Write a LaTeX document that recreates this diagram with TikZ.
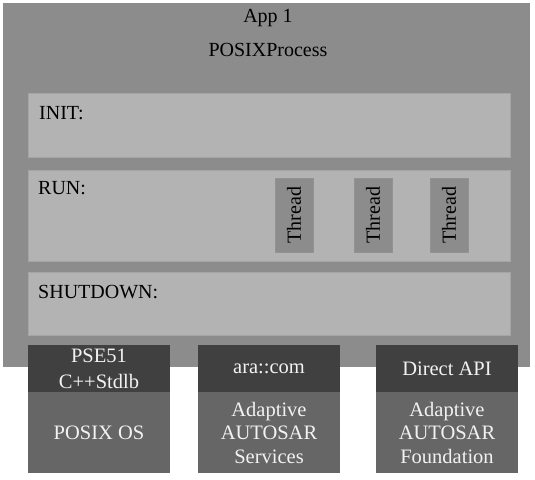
\documentclass[tikz,border=0pt]{standalone}
\usepackage{fontspec}
\setmainfont{Liberation Serif}
\usetikzlibrary{positioning}

\definecolor{appgray}{HTML}{8C8C8C}
\definecolor{phasegray}{HTML}{B3B3B3}
\definecolor{apidark}{HTML}{404040}
\definecolor{stackgray}{HTML}{666666}

\tikzset{
  box/.style={inner sep=0pt, outer sep=0pt},
  phase/.style={box, fill=phasegray, draw=phasegray!92!black, minimum width=482pt, anchor=north west},
  phaselabel/.style={inner sep=0pt, anchor=north west, font=\fontsize{20}{24}\selectfont},
  thread/.style={box, fill=appgray, draw=appgray!95!white, rotate=90, minimum width=74pt, minimum height=38pt, font=\fontsize{20}{24}\selectfont},
  apibox/.style={box, fill=apidark, text=white!95!black, minimum width=142pt, minimum height=47pt, align=center, font=\fontsize{20.5}{26}\selectfont},
  stackbox/.style={box, fill=stackgray, text=white!95!black, minimum width=142pt, minimum height=81pt, align=center, font=\fontsize{20.5}{23.5}\selectfont}
}

\begin{document}
\begin{tikzpicture}[x=1pt, y=-1pt]
  \useasboundingbox (0,0) rectangle (535,479);

  % process
  \node[box, fill=appgray, minimum width=527pt, minimum height=364pt, anchor=north west] (app) at (3,3) {};
  \node[font=\fontsize{20}{24}\selectfont] (appname) at (268,18) {App 1};
  \node[font=\fontsize{20}{24}\selectfont] (process) at (268,50) {POSIXProcess};

  % phases
  \node[phase, minimum height=64pt] (init) at (28,93) {};
  \node[phase, minimum height=91pt] (run) at (28,170) {};
  \node[phase, minimum height=63pt] (shutdown) at (28,272) {};
  \node[phaselabel, below right=13pt and 11pt of init.north west] {INIT:};
  \node[phaselabel, below right=11pt and 10pt of run.north west] {RUN:};
  \node[phaselabel, below right=13pt and 10pt of shutdown.north west] {SHUTDOWN:};

  \foreach \x/\n in {294/1,373/2,449/3}
    \node[thread] (thread\n) at (\x,215) {Thread};

  % platform
  \node[apibox] (pse) at (99,368.5) {PSE51\\C++Stdlb};
  \node[apibox, right=28pt of pse] (aracom) {ara::com};
  \node[apibox, right=36pt of aracom] (direct) {Direct API};
  \node[stackbox, below=0pt of pse] (posix) {POSIX OS};
  \node[stackbox, below=0pt of aracom] (services) {Adaptive\\AUTOSAR\\Services};
  \node[stackbox, below=0pt of direct] (foundation) {Adaptive\\AUTOSAR\\Foundation};
\end{tikzpicture}
\end{document}
